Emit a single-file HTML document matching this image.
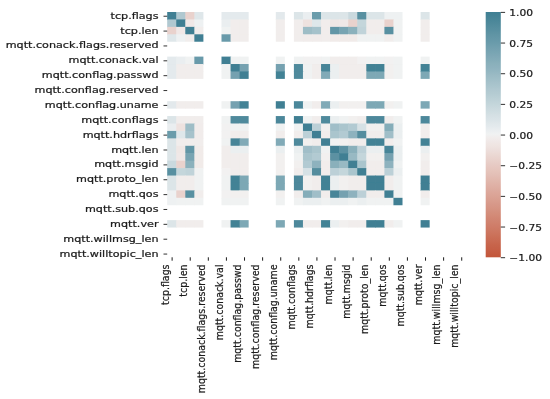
<!DOCTYPE html><html><head><meta charset="utf-8"><title>heatmap</title><style>html,body{margin:0;padding:0;background:#fff}svg{display:block}text{font-family:"DejaVu Sans","Liberation Sans",sans-serif;fill:#1c1c1c;stroke:#1c1c1c;stroke-width:0.22px}</style></head><body>
<svg width="550" height="399" viewBox="0 0 550 399">
<rect width="550" height="399" fill="#fff"/>
<defs><linearGradient id="cb" x1="0" y1="0" x2="0" y2="1">
<stop offset="0.0000" stop-color="#3f7f93"/>
<stop offset="0.0151" stop-color="#438295"/>
<stop offset="0.0302" stop-color="#498698"/>
<stop offset="0.0452" stop-color="#4e899b"/>
<stop offset="0.0603" stop-color="#548d9e"/>
<stop offset="0.0754" stop-color="#5990a1"/>
<stop offset="0.0905" stop-color="#5f94a4"/>
<stop offset="0.1055" stop-color="#6497a7"/>
<stop offset="0.1206" stop-color="#689aaa"/>
<stop offset="0.1357" stop-color="#6e9ead"/>
<stop offset="0.1508" stop-color="#74a1b0"/>
<stop offset="0.1658" stop-color="#79a5b3"/>
<stop offset="0.1809" stop-color="#7fa8b6"/>
<stop offset="0.1960" stop-color="#84acb8"/>
<stop offset="0.2111" stop-color="#8ab0bb"/>
<stop offset="0.2261" stop-color="#8eb2be"/>
<stop offset="0.2412" stop-color="#93b6c1"/>
<stop offset="0.2563" stop-color="#9abac4"/>
<stop offset="0.2714" stop-color="#9fbec7"/>
<stop offset="0.2864" stop-color="#a5c1ca"/>
<stop offset="0.3015" stop-color="#aac5cd"/>
<stop offset="0.3166" stop-color="#b0c8d0"/>
<stop offset="0.3317" stop-color="#b4cbd2"/>
<stop offset="0.3467" stop-color="#b9cfd5"/>
<stop offset="0.3618" stop-color="#bfd2d8"/>
<stop offset="0.3769" stop-color="#c4d6db"/>
<stop offset="0.3920" stop-color="#cad9de"/>
<stop offset="0.4070" stop-color="#cfdde1"/>
<stop offset="0.4221" stop-color="#d5e0e4"/>
<stop offset="0.4372" stop-color="#d9e3e7"/>
<stop offset="0.4523" stop-color="#dfe7ea"/>
<stop offset="0.4673" stop-color="#e4eaed"/>
<stop offset="0.4824" stop-color="#eaeef0"/>
<stop offset="0.4975" stop-color="#f0f2f2"/>
<stop offset="0.5126" stop-color="#f1edec"/>
<stop offset="0.5276" stop-color="#f0e8e7"/>
<stop offset="0.5427" stop-color="#efe5e2"/>
<stop offset="0.5578" stop-color="#ede0dd"/>
<stop offset="0.5729" stop-color="#ecdbd7"/>
<stop offset="0.5879" stop-color="#ead6d1"/>
<stop offset="0.6030" stop-color="#e9d1cb"/>
<stop offset="0.6181" stop-color="#e7ccc6"/>
<stop offset="0.6332" stop-color="#e6c7c0"/>
<stop offset="0.6482" stop-color="#e5c4bb"/>
<stop offset="0.6633" stop-color="#e3bfb6"/>
<stop offset="0.6784" stop-color="#e2bab0"/>
<stop offset="0.6935" stop-color="#e0b5aa"/>
<stop offset="0.7085" stop-color="#dfb0a5"/>
<stop offset="0.7236" stop-color="#ddab9f"/>
<stop offset="0.7387" stop-color="#dca699"/>
<stop offset="0.7538" stop-color="#daa294"/>
<stop offset="0.7688" stop-color="#d99d8e"/>
<stop offset="0.7839" stop-color="#d79889"/>
<stop offset="0.7990" stop-color="#d69483"/>
<stop offset="0.8141" stop-color="#d48f7d"/>
<stop offset="0.8291" stop-color="#d38a77"/>
<stop offset="0.8442" stop-color="#d18572"/>
<stop offset="0.8593" stop-color="#d0816d"/>
<stop offset="0.8744" stop-color="#cf7c68"/>
<stop offset="0.8894" stop-color="#cd7862"/>
<stop offset="0.9045" stop-color="#cc735c"/>
<stop offset="0.9196" stop-color="#ca6e56"/>
<stop offset="0.9347" stop-color="#c96951"/>
<stop offset="0.9497" stop-color="#c7644b"/>
<stop offset="0.9648" stop-color="#c66047"/>
<stop offset="0.9799" stop-color="#c55b41"/>
<stop offset="0.9950" stop-color="#c3573b"/>
<stop offset="1" stop-color="#c3553a"/>
</linearGradient></defs>
<filter id="bl" x="-2%" y="-2%" width="104%" height="104%"><feGaussianBlur stdDeviation="0.35"/></filter>
<g filter="url(#bl)">
<rect x="167.20" y="12.00" width="9.65" height="8.03" fill="#3f7f93"/>
<rect x="176.25" y="12.00" width="9.65" height="8.03" fill="#b0c8d0"/>
<rect x="185.30" y="12.00" width="9.65" height="8.03" fill="#e9d2cd"/>
<rect x="194.35" y="12.00" width="9.05" height="8.03" fill="#dfe7ea"/>
<rect x="221.50" y="12.00" width="9.65" height="8.03" fill="#e4eaed"/>
<rect x="230.55" y="12.00" width="9.65" height="8.03" fill="#e4eaed"/>
<rect x="239.60" y="12.00" width="9.05" height="8.03" fill="#e4eaed"/>
<rect x="275.80" y="12.00" width="9.05" height="8.03" fill="#e3e9ec"/>
<rect x="293.90" y="12.00" width="9.65" height="8.03" fill="#dce5e8"/>
<rect x="302.95" y="12.00" width="9.65" height="8.03" fill="#eaeef0"/>
<rect x="312.00" y="12.00" width="9.65" height="8.03" fill="#6b9cab"/>
<rect x="321.05" y="12.00" width="9.65" height="8.03" fill="#dce5e8"/>
<rect x="330.10" y="12.00" width="9.65" height="8.03" fill="#dce5e8"/>
<rect x="339.15" y="12.00" width="9.65" height="8.03" fill="#dce5e8"/>
<rect x="348.20" y="12.00" width="9.65" height="8.03" fill="#cad9de"/>
<rect x="357.25" y="12.00" width="9.65" height="8.03" fill="#5990a1"/>
<rect x="366.30" y="12.00" width="9.65" height="8.03" fill="#dce5e8"/>
<rect x="375.35" y="12.00" width="9.65" height="8.03" fill="#dce5e8"/>
<rect x="384.40" y="12.00" width="9.65" height="8.03" fill="#eef1f2"/>
<rect x="393.45" y="12.00" width="9.05" height="8.03" fill="#eef1f2"/>
<rect x="420.60" y="12.00" width="9.05" height="8.03" fill="#dce5e8"/>
<rect x="167.20" y="19.43" width="9.65" height="8.03" fill="#b0c8d0"/>
<rect x="176.25" y="19.43" width="9.65" height="8.03" fill="#3f7f93"/>
<rect x="185.30" y="19.43" width="9.65" height="8.03" fill="#f0e8e7"/>
<rect x="194.35" y="19.43" width="9.05" height="8.03" fill="#eef1f2"/>
<rect x="221.50" y="19.43" width="9.65" height="8.03" fill="#eaeef0"/>
<rect x="230.55" y="19.43" width="9.65" height="8.03" fill="#f1edec"/>
<rect x="239.60" y="19.43" width="9.05" height="8.03" fill="#f1edec"/>
<rect x="275.80" y="19.43" width="9.05" height="8.03" fill="#f1edec"/>
<rect x="293.90" y="19.43" width="9.65" height="8.03" fill="#f1edec"/>
<rect x="302.95" y="19.43" width="9.65" height="8.03" fill="#eee2df"/>
<rect x="312.00" y="19.43" width="9.65" height="8.03" fill="#dfe7ea"/>
<rect x="321.05" y="19.43" width="9.65" height="8.03" fill="#f1edec"/>
<rect x="330.10" y="19.43" width="9.65" height="8.03" fill="#efe7e5"/>
<rect x="339.15" y="19.43" width="9.65" height="8.03" fill="#f0e8e7"/>
<rect x="348.20" y="19.43" width="9.65" height="8.03" fill="#e9d2cd"/>
<rect x="357.25" y="19.43" width="9.65" height="8.03" fill="#c4d6db"/>
<rect x="366.30" y="19.43" width="9.65" height="8.03" fill="#f1edec"/>
<rect x="375.35" y="19.43" width="9.65" height="8.03" fill="#f1edec"/>
<rect x="384.40" y="19.43" width="9.65" height="8.03" fill="#e9d2cd"/>
<rect x="393.45" y="19.43" width="9.05" height="8.03" fill="#f0f2f2"/>
<rect x="420.60" y="19.43" width="9.05" height="8.03" fill="#f1edec"/>
<rect x="167.20" y="26.87" width="9.65" height="8.03" fill="#e9d2cd"/>
<rect x="176.25" y="26.87" width="9.65" height="8.03" fill="#f0e8e7"/>
<rect x="185.30" y="26.87" width="9.65" height="8.03" fill="#3f7f93"/>
<rect x="194.35" y="26.87" width="9.05" height="8.03" fill="#f1edec"/>
<rect x="221.50" y="26.87" width="9.65" height="8.03" fill="#f0f2f2"/>
<rect x="230.55" y="26.87" width="9.65" height="8.03" fill="#f1edec"/>
<rect x="239.60" y="26.87" width="9.05" height="8.03" fill="#f1edec"/>
<rect x="275.80" y="26.87" width="9.05" height="8.03" fill="#f1edec"/>
<rect x="293.90" y="26.87" width="9.65" height="8.03" fill="#f1edec"/>
<rect x="302.95" y="26.87" width="9.65" height="8.03" fill="#9ebdc6"/>
<rect x="312.00" y="26.87" width="9.65" height="8.03" fill="#a6c2cb"/>
<rect x="321.05" y="26.87" width="9.65" height="8.03" fill="#f1edec"/>
<rect x="330.10" y="26.87" width="9.65" height="8.03" fill="#6296a6"/>
<rect x="339.15" y="26.87" width="9.65" height="8.03" fill="#78a4b2"/>
<rect x="348.20" y="26.87" width="9.65" height="8.03" fill="#8bb1bc"/>
<rect x="357.25" y="26.87" width="9.65" height="8.03" fill="#c0d3d9"/>
<rect x="366.30" y="26.87" width="9.65" height="8.03" fill="#f1edec"/>
<rect x="375.35" y="26.87" width="9.65" height="8.03" fill="#f1edec"/>
<rect x="384.40" y="26.87" width="9.65" height="8.03" fill="#5990a1"/>
<rect x="393.45" y="26.87" width="9.05" height="8.03" fill="#f0f2f2"/>
<rect x="420.60" y="26.87" width="9.05" height="8.03" fill="#f1edec"/>
<rect x="167.20" y="34.30" width="9.65" height="7.43" fill="#dfe7ea"/>
<rect x="176.25" y="34.30" width="9.65" height="7.43" fill="#eef1f2"/>
<rect x="185.30" y="34.30" width="9.65" height="7.43" fill="#f1edec"/>
<rect x="194.35" y="34.30" width="9.05" height="7.43" fill="#3f7f93"/>
<rect x="221.50" y="34.30" width="9.65" height="7.43" fill="#689aaa"/>
<rect x="230.55" y="34.30" width="9.65" height="7.43" fill="#f1edec"/>
<rect x="239.60" y="34.30" width="9.05" height="7.43" fill="#f1edec"/>
<rect x="275.80" y="34.30" width="9.05" height="7.43" fill="#f1edec"/>
<rect x="293.90" y="34.30" width="9.65" height="7.43" fill="#f1edec"/>
<rect x="302.95" y="34.30" width="9.65" height="7.43" fill="#f1eceb"/>
<rect x="312.00" y="34.30" width="9.65" height="7.43" fill="#f1eceb"/>
<rect x="321.05" y="34.30" width="9.65" height="7.43" fill="#f1edec"/>
<rect x="330.10" y="34.30" width="9.65" height="7.43" fill="#f1ebe9"/>
<rect x="339.15" y="34.30" width="9.65" height="7.43" fill="#f1ebe9"/>
<rect x="348.20" y="34.30" width="9.65" height="7.43" fill="#f1ebe9"/>
<rect x="357.25" y="34.30" width="9.65" height="7.43" fill="#f0f2f2"/>
<rect x="366.30" y="34.30" width="9.65" height="7.43" fill="#f0f2f2"/>
<rect x="375.35" y="34.30" width="9.65" height="7.43" fill="#f0f2f2"/>
<rect x="384.40" y="34.30" width="9.65" height="7.43" fill="#f1edec"/>
<rect x="393.45" y="34.30" width="9.05" height="7.43" fill="#f0f2f2"/>
<rect x="420.60" y="34.30" width="9.05" height="7.43" fill="#f1edec"/>
<rect x="167.20" y="56.60" width="9.65" height="8.03" fill="#e4eaed"/>
<rect x="176.25" y="56.60" width="9.65" height="8.03" fill="#eaeef0"/>
<rect x="185.30" y="56.60" width="9.65" height="8.03" fill="#f0f2f2"/>
<rect x="194.35" y="56.60" width="9.05" height="8.03" fill="#689aaa"/>
<rect x="221.50" y="56.60" width="9.65" height="8.03" fill="#3f7f93"/>
<rect x="230.55" y="56.60" width="9.65" height="8.03" fill="#f0f2f2"/>
<rect x="239.60" y="56.60" width="9.05" height="8.03" fill="#f0f2f2"/>
<rect x="275.80" y="56.60" width="9.05" height="8.03" fill="#f0f2f2"/>
<rect x="293.90" y="56.60" width="9.65" height="8.03" fill="#f0f2f2"/>
<rect x="302.95" y="56.60" width="9.65" height="8.03" fill="#f2f1f1"/>
<rect x="312.00" y="56.60" width="9.65" height="8.03" fill="#f2f1f1"/>
<rect x="321.05" y="56.60" width="9.65" height="8.03" fill="#f0f2f2"/>
<rect x="330.10" y="56.60" width="9.65" height="8.03" fill="#f1edec"/>
<rect x="339.15" y="56.60" width="9.65" height="8.03" fill="#f1edec"/>
<rect x="348.20" y="56.60" width="9.65" height="8.03" fill="#f1edec"/>
<rect x="357.25" y="56.60" width="9.65" height="8.03" fill="#f2f1f1"/>
<rect x="366.30" y="56.60" width="9.65" height="8.03" fill="#f0f2f2"/>
<rect x="375.35" y="56.60" width="9.65" height="8.03" fill="#f0f2f2"/>
<rect x="384.40" y="56.60" width="9.65" height="8.03" fill="#f2f1f1"/>
<rect x="393.45" y="56.60" width="9.05" height="8.03" fill="#f0f2f2"/>
<rect x="420.60" y="56.60" width="9.05" height="8.03" fill="#f0f2f2"/>
<rect x="167.20" y="64.03" width="9.65" height="8.03" fill="#e4eaed"/>
<rect x="176.25" y="64.03" width="9.65" height="8.03" fill="#f1edec"/>
<rect x="185.30" y="64.03" width="9.65" height="8.03" fill="#f1edec"/>
<rect x="194.35" y="64.03" width="9.05" height="8.03" fill="#f1edec"/>
<rect x="221.50" y="64.03" width="9.65" height="8.03" fill="#f0f2f2"/>
<rect x="230.55" y="64.03" width="9.65" height="8.03" fill="#3f7f93"/>
<rect x="239.60" y="64.03" width="9.05" height="8.03" fill="#74a1b0"/>
<rect x="275.80" y="64.03" width="9.05" height="8.03" fill="#74a1b0"/>
<rect x="293.90" y="64.03" width="9.65" height="8.03" fill="#508a9c"/>
<rect x="302.95" y="64.03" width="9.65" height="8.03" fill="#f0f2f2"/>
<rect x="312.00" y="64.03" width="9.65" height="8.03" fill="#f1edec"/>
<rect x="321.05" y="64.03" width="9.65" height="8.03" fill="#478598"/>
<rect x="330.10" y="64.03" width="9.65" height="8.03" fill="#ebeff0"/>
<rect x="339.15" y="64.03" width="9.65" height="8.03" fill="#f1edec"/>
<rect x="348.20" y="64.03" width="9.65" height="8.03" fill="#f1edec"/>
<rect x="357.25" y="64.03" width="9.65" height="8.03" fill="#f1edec"/>
<rect x="366.30" y="64.03" width="9.65" height="8.03" fill="#438295"/>
<rect x="375.35" y="64.03" width="9.65" height="8.03" fill="#438295"/>
<rect x="384.40" y="64.03" width="9.65" height="8.03" fill="#f2f0ef"/>
<rect x="393.45" y="64.03" width="9.05" height="8.03" fill="#f0f2f2"/>
<rect x="420.60" y="64.03" width="9.05" height="8.03" fill="#438295"/>
<rect x="167.20" y="71.46" width="9.65" height="7.43" fill="#e4eaed"/>
<rect x="176.25" y="71.46" width="9.65" height="7.43" fill="#f1edec"/>
<rect x="185.30" y="71.46" width="9.65" height="7.43" fill="#f1edec"/>
<rect x="194.35" y="71.46" width="9.05" height="7.43" fill="#f1edec"/>
<rect x="221.50" y="71.46" width="9.65" height="7.43" fill="#f0f2f2"/>
<rect x="230.55" y="71.46" width="9.65" height="7.43" fill="#74a1b0"/>
<rect x="239.60" y="71.46" width="9.05" height="7.43" fill="#3f7f93"/>
<rect x="275.80" y="71.46" width="9.05" height="7.43" fill="#438295"/>
<rect x="293.90" y="71.46" width="9.65" height="7.43" fill="#508a9c"/>
<rect x="302.95" y="71.46" width="9.65" height="7.43" fill="#f0f2f2"/>
<rect x="312.00" y="71.46" width="9.65" height="7.43" fill="#f1edec"/>
<rect x="321.05" y="71.46" width="9.65" height="7.43" fill="#81aab7"/>
<rect x="330.10" y="71.46" width="9.65" height="7.43" fill="#ebeff0"/>
<rect x="339.15" y="71.46" width="9.65" height="7.43" fill="#f1edec"/>
<rect x="348.20" y="71.46" width="9.65" height="7.43" fill="#f1edec"/>
<rect x="357.25" y="71.46" width="9.65" height="7.43" fill="#f1edec"/>
<rect x="366.30" y="71.46" width="9.65" height="7.43" fill="#7da8b5"/>
<rect x="375.35" y="71.46" width="9.65" height="7.43" fill="#7da8b5"/>
<rect x="384.40" y="71.46" width="9.65" height="7.43" fill="#f2f0ef"/>
<rect x="393.45" y="71.46" width="9.05" height="7.43" fill="#f0f2f2"/>
<rect x="420.60" y="71.46" width="9.05" height="7.43" fill="#7da8b5"/>
<rect x="167.20" y="101.20" width="9.65" height="7.43" fill="#e3e9ec"/>
<rect x="176.25" y="101.20" width="9.65" height="7.43" fill="#f1edec"/>
<rect x="185.30" y="101.20" width="9.65" height="7.43" fill="#f1edec"/>
<rect x="194.35" y="101.20" width="9.05" height="7.43" fill="#f1edec"/>
<rect x="221.50" y="101.20" width="9.65" height="7.43" fill="#f0f2f2"/>
<rect x="230.55" y="101.20" width="9.65" height="7.43" fill="#74a1b0"/>
<rect x="239.60" y="101.20" width="9.05" height="7.43" fill="#438295"/>
<rect x="275.80" y="101.20" width="9.05" height="7.43" fill="#3f7f93"/>
<rect x="293.90" y="101.20" width="9.65" height="7.43" fill="#4b879a"/>
<rect x="302.95" y="101.20" width="9.65" height="7.43" fill="#f0f2f2"/>
<rect x="312.00" y="101.20" width="9.65" height="7.43" fill="#f1edec"/>
<rect x="321.05" y="101.20" width="9.65" height="7.43" fill="#81aab7"/>
<rect x="330.10" y="101.20" width="9.65" height="7.43" fill="#ebeff0"/>
<rect x="339.15" y="101.20" width="9.65" height="7.43" fill="#f2f0ef"/>
<rect x="348.20" y="101.20" width="9.65" height="7.43" fill="#f2f0ef"/>
<rect x="357.25" y="101.20" width="9.65" height="7.43" fill="#f2f0ef"/>
<rect x="366.30" y="101.20" width="9.65" height="7.43" fill="#7da8b5"/>
<rect x="375.35" y="101.20" width="9.65" height="7.43" fill="#7da8b5"/>
<rect x="384.40" y="101.20" width="9.65" height="7.43" fill="#f2f0ef"/>
<rect x="393.45" y="101.20" width="9.05" height="7.43" fill="#f0f2f2"/>
<rect x="420.60" y="101.20" width="9.05" height="7.43" fill="#7da8b5"/>
<rect x="167.20" y="116.06" width="9.65" height="8.03" fill="#dce5e8"/>
<rect x="176.25" y="116.06" width="9.65" height="8.03" fill="#f1edec"/>
<rect x="185.30" y="116.06" width="9.65" height="8.03" fill="#f1edec"/>
<rect x="194.35" y="116.06" width="9.05" height="8.03" fill="#f1edec"/>
<rect x="221.50" y="116.06" width="9.65" height="8.03" fill="#f0f2f2"/>
<rect x="230.55" y="116.06" width="9.65" height="8.03" fill="#508a9c"/>
<rect x="239.60" y="116.06" width="9.05" height="8.03" fill="#508a9c"/>
<rect x="275.80" y="116.06" width="9.05" height="8.03" fill="#4b879a"/>
<rect x="293.90" y="116.06" width="9.65" height="8.03" fill="#3f7f93"/>
<rect x="302.95" y="116.06" width="9.65" height="8.03" fill="#f0f2f2"/>
<rect x="312.00" y="116.06" width="9.65" height="8.03" fill="#f1edec"/>
<rect x="321.05" y="116.06" width="9.65" height="8.03" fill="#508a9c"/>
<rect x="330.10" y="116.06" width="9.65" height="8.03" fill="#ebeff0"/>
<rect x="339.15" y="116.06" width="9.65" height="8.03" fill="#f0f2f2"/>
<rect x="348.20" y="116.06" width="9.65" height="8.03" fill="#f2f0ef"/>
<rect x="357.25" y="116.06" width="9.65" height="8.03" fill="#f1edec"/>
<rect x="366.30" y="116.06" width="9.65" height="8.03" fill="#4d889b"/>
<rect x="375.35" y="116.06" width="9.65" height="8.03" fill="#4d889b"/>
<rect x="384.40" y="116.06" width="9.65" height="8.03" fill="#f1edec"/>
<rect x="393.45" y="116.06" width="9.05" height="8.03" fill="#f0f2f2"/>
<rect x="420.60" y="116.06" width="9.05" height="8.03" fill="#4d889b"/>
<rect x="167.20" y="123.50" width="9.65" height="8.03" fill="#eaeef0"/>
<rect x="176.25" y="123.50" width="9.65" height="8.03" fill="#eee2df"/>
<rect x="185.30" y="123.50" width="9.65" height="8.03" fill="#9ebdc6"/>
<rect x="194.35" y="123.50" width="9.05" height="8.03" fill="#f1eceb"/>
<rect x="221.50" y="123.50" width="9.65" height="8.03" fill="#f2f1f1"/>
<rect x="230.55" y="123.50" width="9.65" height="8.03" fill="#f0f2f2"/>
<rect x="239.60" y="123.50" width="9.05" height="8.03" fill="#f0f2f2"/>
<rect x="275.80" y="123.50" width="9.05" height="8.03" fill="#f0f2f2"/>
<rect x="293.90" y="123.50" width="9.65" height="8.03" fill="#f0f2f2"/>
<rect x="302.95" y="123.50" width="9.65" height="8.03" fill="#3f7f93"/>
<rect x="312.00" y="123.50" width="9.65" height="8.03" fill="#bcd0d7"/>
<rect x="321.05" y="123.50" width="9.65" height="8.03" fill="#f2f0ef"/>
<rect x="330.10" y="123.50" width="9.65" height="8.03" fill="#a0bec8"/>
<rect x="339.15" y="123.50" width="9.65" height="8.03" fill="#aac5cd"/>
<rect x="348.20" y="123.50" width="9.65" height="8.03" fill="#b2cad2"/>
<rect x="357.25" y="123.50" width="9.65" height="8.03" fill="#d6e1e5"/>
<rect x="366.30" y="123.50" width="9.65" height="8.03" fill="#f2f0ef"/>
<rect x="375.35" y="123.50" width="9.65" height="8.03" fill="#f2f0ef"/>
<rect x="384.40" y="123.50" width="9.65" height="8.03" fill="#85adb9"/>
<rect x="393.45" y="123.50" width="9.05" height="8.03" fill="#ebeff0"/>
<rect x="420.60" y="123.50" width="9.05" height="8.03" fill="#f1edec"/>
<rect x="167.20" y="130.93" width="9.65" height="8.03" fill="#6b9cab"/>
<rect x="176.25" y="130.93" width="9.65" height="8.03" fill="#dfe7ea"/>
<rect x="185.30" y="130.93" width="9.65" height="8.03" fill="#a6c2cb"/>
<rect x="194.35" y="130.93" width="9.05" height="8.03" fill="#f1eceb"/>
<rect x="221.50" y="130.93" width="9.65" height="8.03" fill="#f2f1f1"/>
<rect x="230.55" y="130.93" width="9.65" height="8.03" fill="#f1edec"/>
<rect x="239.60" y="130.93" width="9.05" height="8.03" fill="#f1edec"/>
<rect x="275.80" y="130.93" width="9.05" height="8.03" fill="#f1edec"/>
<rect x="293.90" y="130.93" width="9.65" height="8.03" fill="#f1edec"/>
<rect x="302.95" y="130.93" width="9.65" height="8.03" fill="#bcd0d7"/>
<rect x="312.00" y="130.93" width="9.65" height="8.03" fill="#3f7f93"/>
<rect x="321.05" y="130.93" width="9.65" height="8.03" fill="#f1edec"/>
<rect x="330.10" y="130.93" width="9.65" height="8.03" fill="#aac5cd"/>
<rect x="339.15" y="130.93" width="9.65" height="8.03" fill="#b2cad2"/>
<rect x="348.20" y="130.93" width="9.65" height="8.03" fill="#8eb2be"/>
<rect x="357.25" y="130.93" width="9.65" height="8.03" fill="#548d9e"/>
<rect x="366.30" y="130.93" width="9.65" height="8.03" fill="#f1edec"/>
<rect x="375.35" y="130.93" width="9.65" height="8.03" fill="#f1edec"/>
<rect x="384.40" y="130.93" width="9.65" height="8.03" fill="#a0bec8"/>
<rect x="393.45" y="130.93" width="9.05" height="8.03" fill="#ebeff0"/>
<rect x="420.60" y="130.93" width="9.05" height="8.03" fill="#f1edec"/>
<rect x="167.20" y="138.36" width="9.65" height="8.03" fill="#dce5e8"/>
<rect x="176.25" y="138.36" width="9.65" height="8.03" fill="#f1edec"/>
<rect x="185.30" y="138.36" width="9.65" height="8.03" fill="#f1edec"/>
<rect x="194.35" y="138.36" width="9.05" height="8.03" fill="#f1edec"/>
<rect x="221.50" y="138.36" width="9.65" height="8.03" fill="#f0f2f2"/>
<rect x="230.55" y="138.36" width="9.65" height="8.03" fill="#478598"/>
<rect x="239.60" y="138.36" width="9.05" height="8.03" fill="#81aab7"/>
<rect x="275.80" y="138.36" width="9.05" height="8.03" fill="#81aab7"/>
<rect x="293.90" y="138.36" width="9.65" height="8.03" fill="#508a9c"/>
<rect x="302.95" y="138.36" width="9.65" height="8.03" fill="#f2f0ef"/>
<rect x="312.00" y="138.36" width="9.65" height="8.03" fill="#f1edec"/>
<rect x="321.05" y="138.36" width="9.65" height="8.03" fill="#3f7f93"/>
<rect x="330.10" y="138.36" width="9.65" height="8.03" fill="#f0f2f2"/>
<rect x="339.15" y="138.36" width="9.65" height="8.03" fill="#f2f0ef"/>
<rect x="348.20" y="138.36" width="9.65" height="8.03" fill="#f1edec"/>
<rect x="357.25" y="138.36" width="9.65" height="8.03" fill="#f1edec"/>
<rect x="366.30" y="138.36" width="9.65" height="8.03" fill="#438295"/>
<rect x="375.35" y="138.36" width="9.65" height="8.03" fill="#438295"/>
<rect x="384.40" y="138.36" width="9.65" height="8.03" fill="#f1edec"/>
<rect x="393.45" y="138.36" width="9.05" height="8.03" fill="#f0f2f2"/>
<rect x="420.60" y="138.36" width="9.05" height="8.03" fill="#438295"/>
<rect x="167.20" y="145.79" width="9.65" height="8.03" fill="#dce5e8"/>
<rect x="176.25" y="145.79" width="9.65" height="8.03" fill="#efe7e5"/>
<rect x="185.30" y="145.79" width="9.65" height="8.03" fill="#6296a6"/>
<rect x="194.35" y="145.79" width="9.05" height="8.03" fill="#f1ebe9"/>
<rect x="221.50" y="145.79" width="9.65" height="8.03" fill="#f1edec"/>
<rect x="230.55" y="145.79" width="9.65" height="8.03" fill="#ebeff0"/>
<rect x="239.60" y="145.79" width="9.05" height="8.03" fill="#ebeff0"/>
<rect x="275.80" y="145.79" width="9.05" height="8.03" fill="#ebeff0"/>
<rect x="293.90" y="145.79" width="9.65" height="8.03" fill="#ebeff0"/>
<rect x="302.95" y="145.79" width="9.65" height="8.03" fill="#a0bec8"/>
<rect x="312.00" y="145.79" width="9.65" height="8.03" fill="#aac5cd"/>
<rect x="321.05" y="145.79" width="9.65" height="8.03" fill="#f0f2f2"/>
<rect x="330.10" y="145.79" width="9.65" height="8.03" fill="#3f7f93"/>
<rect x="339.15" y="145.79" width="9.65" height="8.03" fill="#5b91a2"/>
<rect x="348.20" y="145.79" width="9.65" height="8.03" fill="#8ab0bb"/>
<rect x="357.25" y="145.79" width="9.65" height="8.03" fill="#bcd0d7"/>
<rect x="366.30" y="145.79" width="9.65" height="8.03" fill="#ebeff0"/>
<rect x="375.35" y="145.79" width="9.65" height="8.03" fill="#ebeff0"/>
<rect x="384.40" y="145.79" width="9.65" height="8.03" fill="#478598"/>
<rect x="393.45" y="145.79" width="9.05" height="8.03" fill="#ebeff0"/>
<rect x="420.60" y="145.79" width="9.05" height="8.03" fill="#ebeff0"/>
<rect x="167.20" y="153.23" width="9.65" height="8.03" fill="#dce5e8"/>
<rect x="176.25" y="153.23" width="9.65" height="8.03" fill="#f0e8e7"/>
<rect x="185.30" y="153.23" width="9.65" height="8.03" fill="#78a4b2"/>
<rect x="194.35" y="153.23" width="9.05" height="8.03" fill="#f1ebe9"/>
<rect x="221.50" y="153.23" width="9.65" height="8.03" fill="#f1edec"/>
<rect x="230.55" y="153.23" width="9.65" height="8.03" fill="#f1edec"/>
<rect x="239.60" y="153.23" width="9.05" height="8.03" fill="#f1edec"/>
<rect x="275.80" y="153.23" width="9.05" height="8.03" fill="#f2f0ef"/>
<rect x="293.90" y="153.23" width="9.65" height="8.03" fill="#f0f2f2"/>
<rect x="302.95" y="153.23" width="9.65" height="8.03" fill="#aac5cd"/>
<rect x="312.00" y="153.23" width="9.65" height="8.03" fill="#b2cad2"/>
<rect x="321.05" y="153.23" width="9.65" height="8.03" fill="#f2f0ef"/>
<rect x="330.10" y="153.23" width="9.65" height="8.03" fill="#5b91a2"/>
<rect x="339.15" y="153.23" width="9.65" height="8.03" fill="#3f7f93"/>
<rect x="348.20" y="153.23" width="9.65" height="8.03" fill="#98b9c3"/>
<rect x="357.25" y="153.23" width="9.65" height="8.03" fill="#c4d6db"/>
<rect x="366.30" y="153.23" width="9.65" height="8.03" fill="#f2f0ef"/>
<rect x="375.35" y="153.23" width="9.65" height="8.03" fill="#f2f0ef"/>
<rect x="384.40" y="153.23" width="9.65" height="8.03" fill="#74a1b0"/>
<rect x="393.45" y="153.23" width="9.05" height="8.03" fill="#ebeff0"/>
<rect x="420.60" y="153.23" width="9.05" height="8.03" fill="#f2f0ef"/>
<rect x="167.20" y="160.66" width="9.65" height="8.03" fill="#cad9de"/>
<rect x="176.25" y="160.66" width="9.65" height="8.03" fill="#e9d2cd"/>
<rect x="185.30" y="160.66" width="9.65" height="8.03" fill="#8bb1bc"/>
<rect x="194.35" y="160.66" width="9.05" height="8.03" fill="#f1ebe9"/>
<rect x="221.50" y="160.66" width="9.65" height="8.03" fill="#f1edec"/>
<rect x="230.55" y="160.66" width="9.65" height="8.03" fill="#f1edec"/>
<rect x="239.60" y="160.66" width="9.05" height="8.03" fill="#f1edec"/>
<rect x="275.80" y="160.66" width="9.05" height="8.03" fill="#f2f0ef"/>
<rect x="293.90" y="160.66" width="9.65" height="8.03" fill="#f2f0ef"/>
<rect x="302.95" y="160.66" width="9.65" height="8.03" fill="#b2cad2"/>
<rect x="312.00" y="160.66" width="9.65" height="8.03" fill="#8eb2be"/>
<rect x="321.05" y="160.66" width="9.65" height="8.03" fill="#f1edec"/>
<rect x="330.10" y="160.66" width="9.65" height="8.03" fill="#8ab0bb"/>
<rect x="339.15" y="160.66" width="9.65" height="8.03" fill="#98b9c3"/>
<rect x="348.20" y="160.66" width="9.65" height="8.03" fill="#3f7f93"/>
<rect x="357.25" y="160.66" width="9.65" height="8.03" fill="#aac5cd"/>
<rect x="366.30" y="160.66" width="9.65" height="8.03" fill="#f1edec"/>
<rect x="375.35" y="160.66" width="9.65" height="8.03" fill="#f1edec"/>
<rect x="384.40" y="160.66" width="9.65" height="8.03" fill="#8eb2be"/>
<rect x="393.45" y="160.66" width="9.05" height="8.03" fill="#f0f2f2"/>
<rect x="420.60" y="160.66" width="9.05" height="8.03" fill="#f1edec"/>
<rect x="167.20" y="168.09" width="9.65" height="8.03" fill="#5990a1"/>
<rect x="176.25" y="168.09" width="9.65" height="8.03" fill="#c4d6db"/>
<rect x="185.30" y="168.09" width="9.65" height="8.03" fill="#c0d3d9"/>
<rect x="194.35" y="168.09" width="9.05" height="8.03" fill="#f0f2f2"/>
<rect x="221.50" y="168.09" width="9.65" height="8.03" fill="#f2f1f1"/>
<rect x="230.55" y="168.09" width="9.65" height="8.03" fill="#f1edec"/>
<rect x="239.60" y="168.09" width="9.05" height="8.03" fill="#f1edec"/>
<rect x="275.80" y="168.09" width="9.05" height="8.03" fill="#f2f0ef"/>
<rect x="293.90" y="168.09" width="9.65" height="8.03" fill="#f1edec"/>
<rect x="302.95" y="168.09" width="9.65" height="8.03" fill="#d6e1e5"/>
<rect x="312.00" y="168.09" width="9.65" height="8.03" fill="#548d9e"/>
<rect x="321.05" y="168.09" width="9.65" height="8.03" fill="#f1edec"/>
<rect x="330.10" y="168.09" width="9.65" height="8.03" fill="#bcd0d7"/>
<rect x="339.15" y="168.09" width="9.65" height="8.03" fill="#c4d6db"/>
<rect x="348.20" y="168.09" width="9.65" height="8.03" fill="#aac5cd"/>
<rect x="357.25" y="168.09" width="9.65" height="8.03" fill="#3f7f93"/>
<rect x="366.30" y="168.09" width="9.65" height="8.03" fill="#f1edec"/>
<rect x="375.35" y="168.09" width="9.65" height="8.03" fill="#f1edec"/>
<rect x="384.40" y="168.09" width="9.65" height="8.03" fill="#bcd0d7"/>
<rect x="393.45" y="168.09" width="9.05" height="8.03" fill="#ebeff0"/>
<rect x="420.60" y="168.09" width="9.05" height="8.03" fill="#f1edec"/>
<rect x="167.20" y="175.53" width="9.65" height="8.03" fill="#dce5e8"/>
<rect x="176.25" y="175.53" width="9.65" height="8.03" fill="#f1edec"/>
<rect x="185.30" y="175.53" width="9.65" height="8.03" fill="#f1edec"/>
<rect x="194.35" y="175.53" width="9.05" height="8.03" fill="#f0f2f2"/>
<rect x="221.50" y="175.53" width="9.65" height="8.03" fill="#f0f2f2"/>
<rect x="230.55" y="175.53" width="9.65" height="8.03" fill="#438295"/>
<rect x="239.60" y="175.53" width="9.05" height="8.03" fill="#7da8b5"/>
<rect x="275.80" y="175.53" width="9.05" height="8.03" fill="#7da8b5"/>
<rect x="293.90" y="175.53" width="9.65" height="8.03" fill="#4d889b"/>
<rect x="302.95" y="175.53" width="9.65" height="8.03" fill="#f2f0ef"/>
<rect x="312.00" y="175.53" width="9.65" height="8.03" fill="#f1edec"/>
<rect x="321.05" y="175.53" width="9.65" height="8.03" fill="#438295"/>
<rect x="330.10" y="175.53" width="9.65" height="8.03" fill="#ebeff0"/>
<rect x="339.15" y="175.53" width="9.65" height="8.03" fill="#f2f0ef"/>
<rect x="348.20" y="175.53" width="9.65" height="8.03" fill="#f1edec"/>
<rect x="357.25" y="175.53" width="9.65" height="8.03" fill="#f1edec"/>
<rect x="366.30" y="175.53" width="9.65" height="8.03" fill="#3f7f93"/>
<rect x="375.35" y="175.53" width="9.65" height="8.03" fill="#3f7f93"/>
<rect x="384.40" y="175.53" width="9.65" height="8.03" fill="#f1edec"/>
<rect x="393.45" y="175.53" width="9.05" height="8.03" fill="#f0f2f2"/>
<rect x="420.60" y="175.53" width="9.05" height="8.03" fill="#3f7f93"/>
<rect x="167.20" y="182.96" width="9.65" height="8.03" fill="#dce5e8"/>
<rect x="176.25" y="182.96" width="9.65" height="8.03" fill="#f1edec"/>
<rect x="185.30" y="182.96" width="9.65" height="8.03" fill="#f1edec"/>
<rect x="194.35" y="182.96" width="9.05" height="8.03" fill="#f0f2f2"/>
<rect x="221.50" y="182.96" width="9.65" height="8.03" fill="#f0f2f2"/>
<rect x="230.55" y="182.96" width="9.65" height="8.03" fill="#438295"/>
<rect x="239.60" y="182.96" width="9.05" height="8.03" fill="#7da8b5"/>
<rect x="275.80" y="182.96" width="9.05" height="8.03" fill="#7da8b5"/>
<rect x="293.90" y="182.96" width="9.65" height="8.03" fill="#4d889b"/>
<rect x="302.95" y="182.96" width="9.65" height="8.03" fill="#f2f0ef"/>
<rect x="312.00" y="182.96" width="9.65" height="8.03" fill="#f1edec"/>
<rect x="321.05" y="182.96" width="9.65" height="8.03" fill="#438295"/>
<rect x="330.10" y="182.96" width="9.65" height="8.03" fill="#ebeff0"/>
<rect x="339.15" y="182.96" width="9.65" height="8.03" fill="#f2f0ef"/>
<rect x="348.20" y="182.96" width="9.65" height="8.03" fill="#f1edec"/>
<rect x="357.25" y="182.96" width="9.65" height="8.03" fill="#f1edec"/>
<rect x="366.30" y="182.96" width="9.65" height="8.03" fill="#3f7f93"/>
<rect x="375.35" y="182.96" width="9.65" height="8.03" fill="#3f7f93"/>
<rect x="384.40" y="182.96" width="9.65" height="8.03" fill="#f1edec"/>
<rect x="393.45" y="182.96" width="9.05" height="8.03" fill="#f0f2f2"/>
<rect x="420.60" y="182.96" width="9.05" height="8.03" fill="#3f7f93"/>
<rect x="167.20" y="190.39" width="9.65" height="8.03" fill="#eef1f2"/>
<rect x="176.25" y="190.39" width="9.65" height="8.03" fill="#e9d2cd"/>
<rect x="185.30" y="190.39" width="9.65" height="8.03" fill="#5990a1"/>
<rect x="194.35" y="190.39" width="9.05" height="8.03" fill="#f1edec"/>
<rect x="221.50" y="190.39" width="9.65" height="8.03" fill="#f2f1f1"/>
<rect x="230.55" y="190.39" width="9.65" height="8.03" fill="#f2f0ef"/>
<rect x="239.60" y="190.39" width="9.05" height="8.03" fill="#f2f0ef"/>
<rect x="275.80" y="190.39" width="9.05" height="8.03" fill="#f2f0ef"/>
<rect x="293.90" y="190.39" width="9.65" height="8.03" fill="#f1edec"/>
<rect x="302.95" y="190.39" width="9.65" height="8.03" fill="#85adb9"/>
<rect x="312.00" y="190.39" width="9.65" height="8.03" fill="#a0bec8"/>
<rect x="321.05" y="190.39" width="9.65" height="8.03" fill="#f1edec"/>
<rect x="330.10" y="190.39" width="9.65" height="8.03" fill="#478598"/>
<rect x="339.15" y="190.39" width="9.65" height="8.03" fill="#74a1b0"/>
<rect x="348.20" y="190.39" width="9.65" height="8.03" fill="#8eb2be"/>
<rect x="357.25" y="190.39" width="9.65" height="8.03" fill="#bcd0d7"/>
<rect x="366.30" y="190.39" width="9.65" height="8.03" fill="#f1edec"/>
<rect x="375.35" y="190.39" width="9.65" height="8.03" fill="#f1edec"/>
<rect x="384.40" y="190.39" width="9.65" height="8.03" fill="#3f7f93"/>
<rect x="393.45" y="190.39" width="9.05" height="8.03" fill="#f0f2f2"/>
<rect x="420.60" y="190.39" width="9.05" height="8.03" fill="#f1edec"/>
<rect x="167.20" y="197.82" width="9.65" height="7.43" fill="#eef1f2"/>
<rect x="176.25" y="197.82" width="9.65" height="7.43" fill="#f0f2f2"/>
<rect x="185.30" y="197.82" width="9.65" height="7.43" fill="#f0f2f2"/>
<rect x="194.35" y="197.82" width="9.05" height="7.43" fill="#f0f2f2"/>
<rect x="221.50" y="197.82" width="9.65" height="7.43" fill="#f0f2f2"/>
<rect x="230.55" y="197.82" width="9.65" height="7.43" fill="#f0f2f2"/>
<rect x="239.60" y="197.82" width="9.05" height="7.43" fill="#f0f2f2"/>
<rect x="275.80" y="197.82" width="9.05" height="7.43" fill="#f0f2f2"/>
<rect x="293.90" y="197.82" width="9.65" height="7.43" fill="#f0f2f2"/>
<rect x="302.95" y="197.82" width="9.65" height="7.43" fill="#ebeff0"/>
<rect x="312.00" y="197.82" width="9.65" height="7.43" fill="#ebeff0"/>
<rect x="321.05" y="197.82" width="9.65" height="7.43" fill="#f0f2f2"/>
<rect x="330.10" y="197.82" width="9.65" height="7.43" fill="#ebeff0"/>
<rect x="339.15" y="197.82" width="9.65" height="7.43" fill="#ebeff0"/>
<rect x="348.20" y="197.82" width="9.65" height="7.43" fill="#f0f2f2"/>
<rect x="357.25" y="197.82" width="9.65" height="7.43" fill="#ebeff0"/>
<rect x="366.30" y="197.82" width="9.65" height="7.43" fill="#f0f2f2"/>
<rect x="375.35" y="197.82" width="9.65" height="7.43" fill="#f0f2f2"/>
<rect x="384.40" y="197.82" width="9.65" height="7.43" fill="#f0f2f2"/>
<rect x="393.45" y="197.82" width="9.05" height="7.43" fill="#3f7f93"/>
<rect x="420.60" y="197.82" width="9.05" height="7.43" fill="#f0f2f2"/>
<rect x="167.20" y="220.12" width="9.65" height="7.43" fill="#dce5e8"/>
<rect x="176.25" y="220.12" width="9.65" height="7.43" fill="#f1edec"/>
<rect x="185.30" y="220.12" width="9.65" height="7.43" fill="#f1edec"/>
<rect x="194.35" y="220.12" width="9.05" height="7.43" fill="#f1edec"/>
<rect x="221.50" y="220.12" width="9.65" height="7.43" fill="#f0f2f2"/>
<rect x="230.55" y="220.12" width="9.65" height="7.43" fill="#438295"/>
<rect x="239.60" y="220.12" width="9.05" height="7.43" fill="#7da8b5"/>
<rect x="275.80" y="220.12" width="9.05" height="7.43" fill="#7da8b5"/>
<rect x="293.90" y="220.12" width="9.65" height="7.43" fill="#4d889b"/>
<rect x="302.95" y="220.12" width="9.65" height="7.43" fill="#f1edec"/>
<rect x="312.00" y="220.12" width="9.65" height="7.43" fill="#f1edec"/>
<rect x="321.05" y="220.12" width="9.65" height="7.43" fill="#438295"/>
<rect x="330.10" y="220.12" width="9.65" height="7.43" fill="#ebeff0"/>
<rect x="339.15" y="220.12" width="9.65" height="7.43" fill="#f2f0ef"/>
<rect x="348.20" y="220.12" width="9.65" height="7.43" fill="#f1edec"/>
<rect x="357.25" y="220.12" width="9.65" height="7.43" fill="#f1edec"/>
<rect x="366.30" y="220.12" width="9.65" height="7.43" fill="#3f7f93"/>
<rect x="375.35" y="220.12" width="9.65" height="7.43" fill="#3f7f93"/>
<rect x="384.40" y="220.12" width="9.65" height="7.43" fill="#f1edec"/>
<rect x="393.45" y="220.12" width="9.05" height="7.43" fill="#f0f2f2"/>
<rect x="420.60" y="220.12" width="9.05" height="7.43" fill="#3f7f93"/>
</g>
<rect x="485.70" y="12.00" width="15.10" height="245.30" fill="url(#cb)"/>
<line x1="500.80" y1="12.40" x2="505.10" y2="12.40" stroke="#1c1c1c" stroke-width="0.9"/>
<text transform="translate(509.30,16.00) scale(1.240,1)" font-size="8.60">1.00</text>
<line x1="500.80" y1="43.06" x2="505.10" y2="43.06" stroke="#1c1c1c" stroke-width="0.9"/>
<text transform="translate(509.30,46.66) scale(1.240,1)" font-size="8.60">0.75</text>
<line x1="500.80" y1="73.73" x2="505.10" y2="73.73" stroke="#1c1c1c" stroke-width="0.9"/>
<text transform="translate(509.30,77.33) scale(1.240,1)" font-size="8.60">0.50</text>
<line x1="500.80" y1="104.39" x2="505.10" y2="104.39" stroke="#1c1c1c" stroke-width="0.9"/>
<text transform="translate(509.30,107.99) scale(1.240,1)" font-size="8.60">0.25</text>
<line x1="500.80" y1="135.05" x2="505.10" y2="135.05" stroke="#1c1c1c" stroke-width="0.9"/>
<text transform="translate(509.30,138.65) scale(1.240,1)" font-size="8.60">0.00</text>
<line x1="500.80" y1="165.71" x2="505.10" y2="165.71" stroke="#1c1c1c" stroke-width="0.9"/>
<text transform="translate(509.30,169.31) scale(1.240,1)" font-size="8.60">−0.25</text>
<line x1="500.80" y1="196.38" x2="505.10" y2="196.38" stroke="#1c1c1c" stroke-width="0.9"/>
<text transform="translate(509.30,199.98) scale(1.240,1)" font-size="8.60">−0.50</text>
<line x1="500.80" y1="227.04" x2="505.10" y2="227.04" stroke="#1c1c1c" stroke-width="0.9"/>
<text transform="translate(509.30,230.64) scale(1.240,1)" font-size="8.60">−0.75</text>
<line x1="500.80" y1="257.70" x2="505.10" y2="257.70" stroke="#1c1c1c" stroke-width="0.9"/>
<text transform="translate(509.30,261.30) scale(1.240,1)" font-size="8.60">−1.00</text>
<line x1="163.50" y1="16.22" x2="167.20" y2="16.22" stroke="#1c1c1c" stroke-width="0.9"/>
<text transform="translate(158.50,18.72) scale(1.300,1)" font-size="8.60" text-anchor="end">tcp.flags</text>
<line x1="163.50" y1="31.08" x2="167.20" y2="31.08" stroke="#1c1c1c" stroke-width="0.9"/>
<text transform="translate(158.50,33.58) scale(1.300,1)" font-size="8.60" text-anchor="end">tcp.len</text>
<line x1="163.50" y1="45.95" x2="167.20" y2="45.95" stroke="#1c1c1c" stroke-width="0.9"/>
<text transform="translate(158.50,48.45) scale(1.300,1)" font-size="8.60" text-anchor="end">mqtt.conack.flags.reserved</text>
<line x1="163.50" y1="60.81" x2="167.20" y2="60.81" stroke="#1c1c1c" stroke-width="0.9"/>
<text transform="translate(158.50,63.31) scale(1.300,1)" font-size="8.60" text-anchor="end">mqtt.conack.val</text>
<line x1="163.50" y1="75.68" x2="167.20" y2="75.68" stroke="#1c1c1c" stroke-width="0.9"/>
<text transform="translate(158.50,78.18) scale(1.300,1)" font-size="8.60" text-anchor="end">mqtt.conflag.passwd</text>
<line x1="163.50" y1="90.55" x2="167.20" y2="90.55" stroke="#1c1c1c" stroke-width="0.9"/>
<text transform="translate(158.50,93.05) scale(1.300,1)" font-size="8.60" text-anchor="end">mqtt.conflag.reserved</text>
<line x1="163.50" y1="105.41" x2="167.20" y2="105.41" stroke="#1c1c1c" stroke-width="0.9"/>
<text transform="translate(158.50,107.91) scale(1.300,1)" font-size="8.60" text-anchor="end">mqtt.conflag.uname</text>
<line x1="163.50" y1="120.28" x2="167.20" y2="120.28" stroke="#1c1c1c" stroke-width="0.9"/>
<text transform="translate(158.50,122.78) scale(1.300,1)" font-size="8.60" text-anchor="end">mqtt.conflags</text>
<line x1="163.50" y1="135.14" x2="167.20" y2="135.14" stroke="#1c1c1c" stroke-width="0.9"/>
<text transform="translate(158.50,137.64) scale(1.300,1)" font-size="8.60" text-anchor="end">mqtt.hdrflags</text>
<line x1="163.50" y1="150.01" x2="167.20" y2="150.01" stroke="#1c1c1c" stroke-width="0.9"/>
<text transform="translate(158.50,152.51) scale(1.300,1)" font-size="8.60" text-anchor="end">mqtt.len</text>
<line x1="163.50" y1="164.88" x2="167.20" y2="164.88" stroke="#1c1c1c" stroke-width="0.9"/>
<text transform="translate(158.50,167.38) scale(1.300,1)" font-size="8.60" text-anchor="end">mqtt.msgid</text>
<line x1="163.50" y1="179.74" x2="167.20" y2="179.74" stroke="#1c1c1c" stroke-width="0.9"/>
<text transform="translate(158.50,182.24) scale(1.300,1)" font-size="8.60" text-anchor="end">mqtt.proto_len</text>
<line x1="163.50" y1="194.61" x2="167.20" y2="194.61" stroke="#1c1c1c" stroke-width="0.9"/>
<text transform="translate(158.50,197.11) scale(1.300,1)" font-size="8.60" text-anchor="end">mqtt.qos</text>
<line x1="163.50" y1="209.47" x2="167.20" y2="209.47" stroke="#1c1c1c" stroke-width="0.9"/>
<text transform="translate(158.50,211.97) scale(1.300,1)" font-size="8.60" text-anchor="end">mqtt.sub.qos</text>
<line x1="163.50" y1="224.34" x2="167.20" y2="224.34" stroke="#1c1c1c" stroke-width="0.9"/>
<text transform="translate(158.50,226.84) scale(1.300,1)" font-size="8.60" text-anchor="end">mqtt.ver</text>
<line x1="163.50" y1="239.21" x2="167.20" y2="239.21" stroke="#1c1c1c" stroke-width="0.9"/>
<text transform="translate(158.50,241.71) scale(1.300,1)" font-size="8.60" text-anchor="end">mqtt.willmsg_len</text>
<line x1="163.50" y1="254.07" x2="167.20" y2="254.07" stroke="#1c1c1c" stroke-width="0.9"/>
<text transform="translate(158.50,256.57) scale(1.300,1)" font-size="8.60" text-anchor="end">mqtt.willtopic_len</text>
<line x1="172.12" y1="257.29" x2="172.12" y2="260.69" stroke="#1c1c1c" stroke-width="1"/>
<text transform="translate(168.62,264.49) rotate(-90) scale(0.915,1)" font-size="10.30" text-anchor="end">tcp.flags</text>
<line x1="190.22" y1="257.29" x2="190.22" y2="260.69" stroke="#1c1c1c" stroke-width="1"/>
<text transform="translate(186.72,264.49) rotate(-90) scale(0.915,1)" font-size="10.30" text-anchor="end">tcp.len</text>
<line x1="208.32" y1="257.29" x2="208.32" y2="260.69" stroke="#1c1c1c" stroke-width="1"/>
<text transform="translate(204.82,264.49) rotate(-90) scale(0.915,1)" font-size="10.30" text-anchor="end">mqtt.conack.flags.reserved</text>
<line x1="226.42" y1="257.29" x2="226.42" y2="260.69" stroke="#1c1c1c" stroke-width="1"/>
<text transform="translate(222.92,264.49) rotate(-90) scale(0.915,1)" font-size="10.30" text-anchor="end">mqtt.conack.val</text>
<line x1="244.53" y1="257.29" x2="244.53" y2="260.69" stroke="#1c1c1c" stroke-width="1"/>
<text transform="translate(241.03,264.49) rotate(-90) scale(0.915,1)" font-size="10.30" text-anchor="end">mqtt.conflag.passwd</text>
<line x1="262.62" y1="257.29" x2="262.62" y2="260.69" stroke="#1c1c1c" stroke-width="1"/>
<text transform="translate(259.12,264.49) rotate(-90) scale(0.915,1)" font-size="10.30" text-anchor="end">mqtt.conflag.reserved</text>
<line x1="280.72" y1="257.29" x2="280.72" y2="260.69" stroke="#1c1c1c" stroke-width="1"/>
<text transform="translate(277.22,264.49) rotate(-90) scale(0.915,1)" font-size="10.30" text-anchor="end">mqtt.conflag.uname</text>
<line x1="298.82" y1="257.29" x2="298.82" y2="260.69" stroke="#1c1c1c" stroke-width="1"/>
<text transform="translate(295.32,264.49) rotate(-90) scale(0.915,1)" font-size="10.30" text-anchor="end">mqtt.conflags</text>
<line x1="316.92" y1="257.29" x2="316.92" y2="260.69" stroke="#1c1c1c" stroke-width="1"/>
<text transform="translate(313.42,264.49) rotate(-90) scale(0.915,1)" font-size="10.30" text-anchor="end">mqtt.hdrflags</text>
<line x1="335.02" y1="257.29" x2="335.02" y2="260.69" stroke="#1c1c1c" stroke-width="1"/>
<text transform="translate(331.52,264.49) rotate(-90) scale(0.915,1)" font-size="10.30" text-anchor="end">mqtt.len</text>
<line x1="353.12" y1="257.29" x2="353.12" y2="260.69" stroke="#1c1c1c" stroke-width="1"/>
<text transform="translate(349.62,264.49) rotate(-90) scale(0.915,1)" font-size="10.30" text-anchor="end">mqtt.msgid</text>
<line x1="371.23" y1="257.29" x2="371.23" y2="260.69" stroke="#1c1c1c" stroke-width="1"/>
<text transform="translate(367.73,264.49) rotate(-90) scale(0.915,1)" font-size="10.30" text-anchor="end">mqtt.proto_len</text>
<line x1="389.32" y1="257.29" x2="389.32" y2="260.69" stroke="#1c1c1c" stroke-width="1"/>
<text transform="translate(385.82,264.49) rotate(-90) scale(0.915,1)" font-size="10.30" text-anchor="end">mqtt.qos</text>
<line x1="407.42" y1="257.29" x2="407.42" y2="260.69" stroke="#1c1c1c" stroke-width="1"/>
<text transform="translate(403.92,264.49) rotate(-90) scale(0.915,1)" font-size="10.30" text-anchor="end">mqtt.sub.qos</text>
<line x1="425.52" y1="257.29" x2="425.52" y2="260.69" stroke="#1c1c1c" stroke-width="1"/>
<text transform="translate(422.02,264.49) rotate(-90) scale(0.915,1)" font-size="10.30" text-anchor="end">mqtt.ver</text>
<line x1="443.62" y1="257.29" x2="443.62" y2="260.69" stroke="#1c1c1c" stroke-width="1"/>
<text transform="translate(440.12,264.49) rotate(-90) scale(0.915,1)" font-size="10.30" text-anchor="end">mqtt.willmsg_len</text>
<line x1="461.72" y1="257.29" x2="461.72" y2="260.69" stroke="#1c1c1c" stroke-width="1"/>
<text transform="translate(458.22,264.49) rotate(-90) scale(0.915,1)" font-size="10.30" text-anchor="end">mqtt.willtopic_len</text>
</svg></body></html>
